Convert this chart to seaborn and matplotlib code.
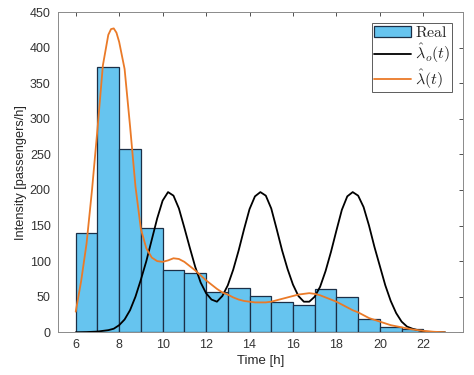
import numpy as np
import pandas as pd
import seaborn as sns
import matplotlib.pyplot as plt

# hourly passenger counts (bar starts at each hour)
hours = [6, 7, 8, 9, 10, 11, 12, 13, 14, 15, 16, 17, 18, 19, 20, 21]
real = [139, 373, 257, 147, 88, 83, 57, 62, 51, 42, 39, 61, 50, 18, 7, 4]

# lambda_o(t)
t_o = [6.0, 6.5, 7.0, 7.5, 7.75, 8.0, 8.25, 8.5, 8.75, 9.0, 9.25, 9.5, 9.75,
       10.0, 10.25, 10.5, 10.75, 11.0, 11.25, 11.5, 11.75, 12.0, 12.25, 12.5,
       12.75, 13.0, 13.25, 13.5, 13.75, 14.0, 14.25, 14.5, 14.75, 15.0, 15.25,
       15.5, 15.75, 16.0, 16.25, 16.5, 16.75, 17.0, 17.25, 17.5, 17.75, 18.0,
       18.25, 18.5, 18.75, 19.0, 19.25, 19.5, 19.75, 20.0, 20.25, 20.5, 20.75,
       21.0, 21.25, 21.5, 21.75, 22.0, 22.5, 23.0]
lam_o = [0, 0.3, 1, 3, 5, 10, 18, 31, 50, 74, 100, 130, 160,
         185, 197, 192, 174, 147, 119, 92, 70, 55, 46, 43,
         51, 66, 88, 115, 145, 173, 191, 197, 192, 174, 145,
         115, 89, 67, 51, 43, 43, 50, 64, 86, 113, 143,
         172, 191, 197, 192, 176, 150, 120, 93, 66, 44, 27,
         15, 8, 5, 3, 1, 0.3, 0]

# lambda(t)
t_hat = [6.0, 6.25, 6.5, 6.75, 7.0, 7.25, 7.5, 7.625, 7.75, 7.875, 8.0, 8.25,
         8.5, 8.75, 9.0, 9.25, 9.5, 9.75, 10.0, 10.25, 10.5, 10.75, 11.0,
         11.25, 11.5, 11.75, 12.0, 12.25, 12.5, 12.75, 13.0, 13.25, 13.5,
         13.75, 14.0, 14.25, 14.5, 14.75, 15.0, 15.25, 15.5, 15.75, 16.0,
         16.25, 16.5, 16.75, 17.0, 17.25, 17.5, 17.75, 18.0, 18.25, 18.5,
         18.75, 19.0, 19.5, 20.0, 20.5, 21.0, 21.5, 22.0, 22.5, 23.0]
lam_hat = [29, 72, 125, 200, 285, 375, 418, 426, 427, 421, 408, 370,
           290, 205, 145, 118, 105, 100, 99, 101, 104, 103, 99,
           93, 87, 80, 73, 67, 61, 56, 53, 49, 46,
           44, 43, 42, 42, 42, 43, 45, 47, 49, 51,
           53, 54, 55, 54, 52, 49, 46, 43, 39, 35,
           31, 28, 20, 15, 10, 7, 4, 2, 0.7, 0]

df = pd.DataFrame({'hour': hours, 'count': real})

sns.set_style("white")
plt.rcParams['font.family'] = ['Liberation Sans', 'DejaVu Sans']
plt.rcParams['mathtext.fontset'] = 'cm'

fig = plt.figure(figsize=(4.74, 3.75), dpi=100)
ax = fig.add_axes([0.1217, 0.1139, 0.8557, 0.854])

sns.histplot(data=df, x='hour', weights='count', bins=list(range(6, 23)), ax=ax,
             color='#66C4EF', alpha=1.0, edgecolor='#1b2f47', linewidth=0.9,
             label=r'$\mathrm{Real}$')
sns.lineplot(x=t_o, y=lam_o, ax=ax, color='black', linewidth=1.3,
             label=r'$\hat{\lambda}_o(t)$')
sns.lineplot(x=t_hat, y=lam_hat, ax=ax, color='#EA7A28', linewidth=1.3,
             label=r'$\hat{\lambda}(t)$')

ax.set_xlim(5.17, 23.84)
ax.set_ylim(0, 450)
ax.set_xticks(np.arange(6, 23, 2))
ax.set_yticks(np.arange(0, 451, 50))
ax.tick_params(direction='in', length=3, width=0.6, top=True, right=True,
               labelsize=9, colors='#333333', pad=5)
for s in ax.spines.values():
    s.set_color('#8a8a8a')
    s.set_linewidth(0.7)

ax.set_xlabel('Time [h]', fontsize=9.5, color='#262626', labelpad=3)
ax.set_ylabel('Intensity [passengers/h]', fontsize=9.2, color='#262626', labelpad=2)

handles, labels = ax.get_legend_handles_labels()
order = [labels.index(r'$\mathrm{Real}$'),
         labels.index(r'$\hat{\lambda}_o(t)$'),
         labels.index(r'$\hat{\lambda}(t)$')]
leg = ax.legend([handles[i] for i in order], [labels[i] for i in order],
                loc='upper right', fontsize=11.5, frameon=True, fancybox=False,
                handlelength=2.3, handletextpad=0.3, borderpad=0.1,
                labelspacing=0.12, borderaxespad=0.7)
leg.get_frame().set_edgecolor('#333333')
leg.get_frame().set_linewidth(0.7)

plt.savefig('out.png', dpi=100)
